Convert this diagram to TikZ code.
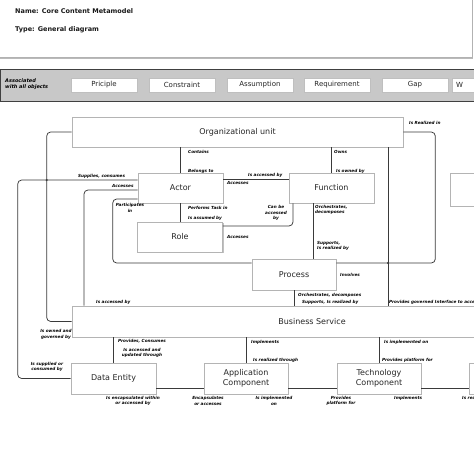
\documentclass[tikz,border=0pt]{standalone}
\usepackage{fontspec}
\setmainfont{DejaVu Sans}
\usetikzlibrary{shadows,calc}
\definecolor{linec}{HTML}{3A3A3A}
\definecolor{bandc}{HTML}{C8C8C8}
\definecolor{boxb}{HTML}{B4B4B4}
\begin{document}
\begin{tikzpicture}[x=1pt,y=-1pt,
  box/.style={draw=boxb, fill=white, line width=0.6pt, minimum width=85pt, minimum height=30pt,
    inner sep=1pt, font=\fontsize{8}{9.5}\selectfont, text=black!85, align=center,
    drop shadow={shadow xshift=1.3pt, shadow yshift=-1.3pt, fill=black!40, opacity=0.6}},
  btn/.style={draw=black!25, fill=white, line width=0.5pt, minimum width=66pt, minimum height=14pt,
    inner sep=0pt, font=\fontsize{7}{8}\selectfont, text=black!85},
  conn/.style={draw=linec, line width=0.75pt, rounded corners=4pt},
  lbl/.style={font=\fontsize{4.2}{5.4}\selectfont\bfseries\itshape, inner sep=0pt, align=center, text=black},
  hdrtext/.style={font=\fontsize{6.5}{8}\selectfont\bfseries, inner sep=0pt, anchor=west, text=black!90},
  jdot/.style={fill=linec, circle, inner sep=0pt, minimum size=2.4pt}
]
\useasboundingbox (0,0) rectangle (474,474);
\clip (0,0) rectangle (474,474);
\fill[white] (0,0) rectangle (474,474);

% header
\node[draw=black!30, fill=white, line width=0.6pt, minimum width=478pt, minimum height=70pt, anchor=south west,
  drop shadow={shadow xshift=0.8pt, shadow yshift=-1.5pt, fill=black!45, opacity=0.6}] (hdr) at (-6,58) {};
\node[hdrtext] (hname) at (15,11) {Name: Core Content Metamodel};
\node[hdrtext] (htype) at (15,30) {Type: General diagram};

% band
\node[draw=black!75, fill=bandc, line width=1pt, minimum width=480pt, minimum height=32pt, anchor=north west] (band) at (0,68.5) {};
\node[lbl, font=\fontsize{5}{6.5}\selectfont\bfseries\itshape, align=left, anchor=west] (assoc) at (5,84) {Associated\\with all objects};
\node[btn] (b1) at (104,85) {Priciple};
\node[btn] (b2) at (182,85) {Constraint};
\node[btn] (b3) at (260,85) {Assumption};
\node[btn] (b4) at (337,85) {Requirement};
\node[btn] (b5) at (415,85) {Gap};
\node[btn, anchor=west] (b6) at (452,85) {};
\node[font=\fontsize{7}{8}\selectfont, text=black!85, inner sep=0pt, anchor=west] (b6t) at (456,85) {W};

% boxes
\node[box, minimum width=331pt] (org) at (237.5,132) {Organizational unit};
\node[box] (actor) at (180.5,188) {Actor};
\node[box] (func) at (331.5,188) {Function};
\node[box] (role) at (180,237) {Role};
\node[box, minimum width=84pt, minimum height=31pt] (proc) at (294,274.5) {Process};
\node[box, minimum height=33pt] (rbox1) at (492.5,189.5) {};
\node[box, minimum width=480pt, minimum height=31pt] (bs) at (312,321.5) {Business Service};
\node[box, minimum height=31pt] (de) at (113.5,378.5) {Data Entity};
\node[box, minimum height=31pt, minimum width=84pt] (app) at (246,378.5) {Application\\Component};
\node[box, minimum height=31pt, minimum width=84pt] (tech) at (379,378.5) {Technology\\Component};
\node[box, minimum height=31pt] (rbox2) at (511.5,378.5) {};

% helper coordinates
\coordinate (ow) at ([xshift=-25pt]org.west);
\coordinate (aw) at ([yshift=8pt]actor.west);
\coordinate (gv) at ([xshift=150.5pt]org.south);
\coordinate (pe) at ([yshift=11.5pt]proc.east);

% connectors
\draw[conn] (org.west) -- (ow) |- (bs.west);
\draw[conn] (de.west) -- ++(-53,0) |- (aw);
\draw[conn] ([yshift=-2pt]actor.west) -| ([xshift=-228pt]bs.north);
\draw[conn] ([yshift=-11pt]actor.west) -- ++(-25,0) |- ([yshift=11.5pt]proc.west);
\draw[conn] (actor.north |- org.south) -- (actor.north);
\draw[conn] (actor.south) -- (actor.south |- role.north);
\draw[conn] (func.north |- org.south) -- (func.north);
\draw[conn] ([yshift=9pt]actor.east) -- ([yshift=9pt]actor.east -| func.west);
\draw[conn] ([yshift=11pt]role.east) -| ([xshift=-38.5pt]func.south);
\draw[conn] ([xshift=-18.5pt]func.south) coordinate (fp) -- (fp |- proc.north);
\draw[conn] (org.east) -- ++(32,0) |- (pe);
\draw[conn] (gv) -- (gv |- bs.north);
\draw[conn] (proc.south) -- (proc.south |- bs.north);
\draw[conn] (de.north |- bs.south) -- (de.north);
\draw[conn] (app.north |- bs.south) -- (app.north);
\draw[conn] (tech.north |- bs.south) -- (tech.north);
\draw[conn] ([yshift=-9.5pt]de.east) -- ([yshift=-9.5pt]app.west);
\draw[conn] ([yshift=-9.5pt]app.east) -- ([yshift=-9.5pt]tech.west);
\draw[conn] ([yshift=-9.5pt]tech.east) -- ([yshift=-9.5pt]rbox2.west);
\node[jdot] (j1) at (ow |- aw) {};
\node[jdot] (j2) at (gv |- pe) {};

% labels
\node[lbl, anchor=west] (l1) at (78,176.5) {Supplies, consumes};
\node[lbl, anchor=west] (l2) at (112,186) {Accesses};
\node[lbl] (l3) at (130,208) {Participates\\in};
\node[lbl, anchor=west] (l4) at (188,152) {Contains};
\node[lbl, anchor=west] (l5) at (188,171) {Belongs to};
\node[lbl, anchor=west] (l6) at (188,208) {Performs Task in};
\node[lbl, anchor=west] (l7) at (188,218) {Is assumed by};
\node[lbl, anchor=west] (l8) at (248,175) {Is accessed by};
\node[lbl, anchor=west] (l9) at (227,183) {Accesses};
\node[lbl] (l10) at (276,213) {Can be\\accessed\\by};
\node[lbl, anchor=west] (l11) at (227,237) {Accesses};
\node[lbl, anchor=west] (l12) at (334,152) {Owns};
\node[lbl, anchor=west] (l13) at (336,171) {Is owned by};
\node[lbl, align=left, anchor=west] (l14) at (315,210) {Orchestrates,\\decomposes};
\node[lbl, align=left, anchor=west] (l15) at (317,246) {Supports,\\Is realized by};
\node[lbl, anchor=west] (l16) at (409,123) {Is Realized in};
\node[lbl, anchor=west] (l17) at (340,275) {Involves};
\node[lbl, anchor=west] (l18) at (298,295) {Orchestrates, decomposes};
\node[lbl, anchor=west] (l19) at (302,302) {Supports, Is realized by};
\node[lbl, anchor=west] (l20) at (96,302.5) {Is accessed by};
\node[lbl, anchor=west] (l21) at (389,302) {Provides governed Interface to access};
\node[lbl] (l22) at (56,334.5) {Is owned and\\governed by};
\node[lbl] (l23) at (47,367) {Is supplied or\\consumed by};
\node[lbl, anchor=west] (l24) at (118,341) {Provides, Consumes};
\node[lbl] (l25) at (142,353) {Is accessed and\\updated through};
\node[lbl, anchor=west] (l26) at (251,342) {Implements};
\node[lbl, anchor=west] (l27) at (253,360) {Is realized through};
\node[lbl, anchor=west] (l28) at (384,342) {Is implemented on};
\node[lbl, anchor=west] (l29) at (382,360) {Provides platform for};
\node[lbl] (l30) at (133,401) {Is encapsulated within\\or accessed by};
\node[lbl] (l31) at (208,401) {Encapsulates\\or accesses};
\node[lbl] (l32) at (274,401) {Is implemented\\on};
\node[lbl] (l33) at (341,401) {Provides\\platform for};
\node[lbl, anchor=west] (l34) at (394,398) {Implements};
\node[lbl, anchor=west] (l35) at (462,398) {Is realized};
\end{tikzpicture}
\end{document}
